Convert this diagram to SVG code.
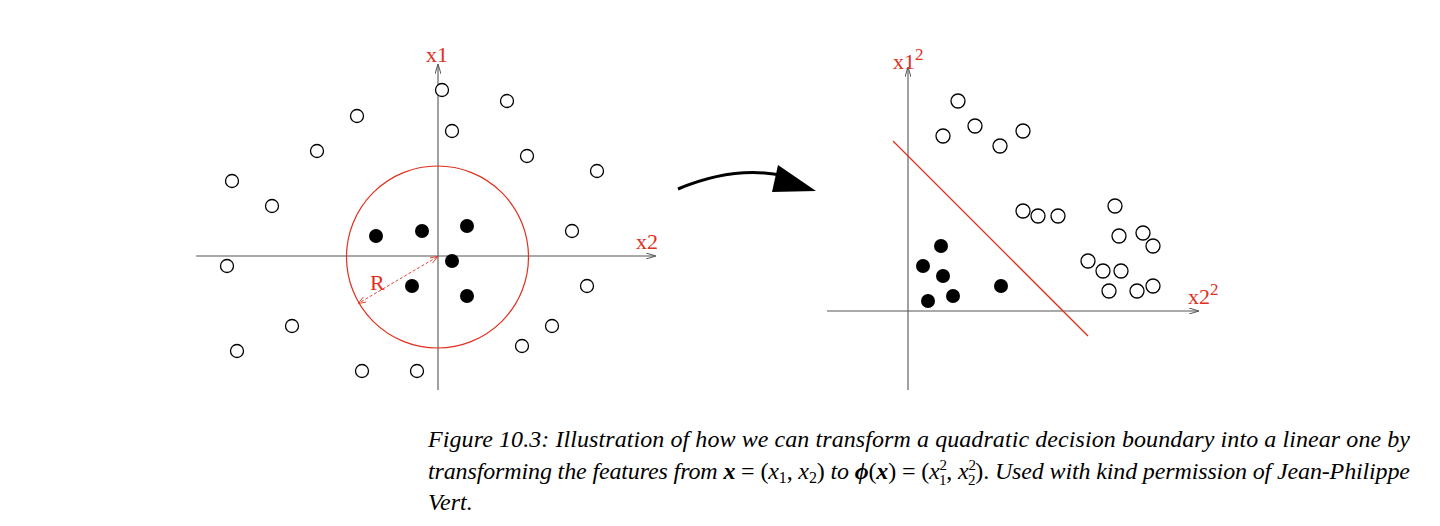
<svg xmlns="http://www.w3.org/2000/svg" width="1440" height="526" viewBox="0 0 1440 526">
<style>
.o{fill:#fff;stroke:#000;stroke-width:1.3}
.f{fill:#000}
.ax{stroke:#555;stroke-width:1.1;fill:none}
.lab{font-family:"Liberation Serif",serif;font-size:22px;fill:#e0301e}
.cap{font-family:"Liberation Serif",serif;font-style:italic;font-size:24px;fill:#000}
</style>
<defs>
<marker id="ah" markerWidth="10" markerHeight="6" refX="9" refY="3" orient="auto" markerUnits="userSpaceOnUse"><path d="M0,0L10,3L0,6" fill="none" stroke="#555"/></marker>
<marker id="rh" markerWidth="8" markerHeight="6" refX="7" refY="3" orient="auto-start-reverse" markerUnits="userSpaceOnUse"><path d="M0,0L8,3L0,6" fill="none" stroke="#e0301e" stroke-width="0.8"/></marker>
</defs>
<rect width="1440" height="526" fill="#fff"/>
<g id="connectors">
<line class="ax" x1="196" y1="256" x2="655" y2="256" marker-end="url(#ah)"/>
<line class="ax" x1="438" y1="390" x2="438" y2="65" marker-end="url(#ah)"/>
<line class="ax" x1="827" y1="311" x2="1198" y2="311" marker-end="url(#ah)"/>
<line class="ax" x1="908" y1="390" x2="908" y2="68" marker-end="url(#ah)"/>
<path d="M678,189 Q735,165 785,176" fill="none" stroke="#000" stroke-width="3"/>
<path d="M778,165 L816,191 L772,192 Z" fill="#000"/>
</g>
<g id="left-plot">
<circle cx="437.5" cy="257" r="91" fill="none" stroke="#e0301e" stroke-width="1.2"/>
<line x1="437" y1="257" x2="359" y2="303" stroke="#e0301e" stroke-width="0.9" stroke-dasharray="3,2" marker-start="url(#rh)" marker-end="url(#rh)"/>
<text class="lab" x="370" y="290">R</text>
<text class="lab" x="426" y="62">x1</text>
<text class="lab" x="636" y="249">x2</text>
<g class="f"><circle cx="376" cy="236" r="7"/><circle cx="422" cy="231" r="7"/><circle cx="467" cy="226" r="7"/><circle cx="452" cy="261" r="7"/><circle cx="412" cy="286" r="7"/><circle cx="467" cy="296" r="7"/></g>
<g class="o"><circle cx="442" cy="90" r="6.5"/><circle cx="507" cy="101" r="6.5"/><circle cx="452" cy="131" r="6.5"/><circle cx="357" cy="116" r="6.5"/><circle cx="317" cy="151" r="6.5"/><circle cx="527" cy="156" r="6.5"/><circle cx="597" cy="171" r="6.5"/><circle cx="232" cy="181" r="6.5"/><circle cx="272" cy="206" r="6.5"/><circle cx="572" cy="231" r="6.5"/><circle cx="227" cy="266" r="6.5"/><circle cx="587" cy="286" r="6.5"/><circle cx="292" cy="326" r="6.5"/><circle cx="552" cy="326" r="6.5"/><circle cx="522" cy="346" r="6.5"/><circle cx="237" cy="351" r="6.5"/><circle cx="362" cy="371" r="6.5"/><circle cx="417" cy="371" r="6.5"/></g>
</g>
<g id="right-plot">
<line x1="893" y1="141" x2="1088" y2="336" stroke="#e0301e" stroke-width="1.3"/>
<text class="lab" x="893" y="69">x1<tspan dy="-9" font-size="17">2</tspan></text>
<text class="lab" x="1188" y="304">x2<tspan dy="-9" font-size="17">2</tspan></text>
<g class="f"><circle cx="941" cy="246" r="7"/><circle cx="923" cy="266" r="7"/><circle cx="943" cy="276" r="7"/><circle cx="953" cy="296" r="7"/><circle cx="928" cy="301" r="7"/><circle cx="1001" cy="286" r="7"/></g>
<g class="o"><circle cx="958" cy="101" r="7"/><circle cx="975" cy="126" r="7"/><circle cx="943" cy="136" r="7"/><circle cx="1000" cy="146" r="7"/><circle cx="1023" cy="131" r="7"/><circle cx="1023" cy="211" r="7"/><circle cx="1038" cy="216" r="7"/><circle cx="1058" cy="216" r="7"/><circle cx="1115" cy="206" r="7"/><circle cx="1119" cy="236" r="7"/><circle cx="1143" cy="233" r="7"/><circle cx="1153" cy="246" r="7"/><circle cx="1088" cy="261" r="7"/><circle cx="1103" cy="271" r="7"/><circle cx="1121" cy="271" r="7"/><circle cx="1109" cy="291" r="7"/><circle cx="1137" cy="291" r="7"/><circle cx="1153" cy="286" r="7"/></g>
</g>
<g id="caption">
<text class="cap" x="428" y="447" textLength="982" lengthAdjust="spacing">Figure 10.3: Illustration of how we can transform a quadratic decision boundary into a linear one by</text>
<text class="cap" x="428" y="479" textLength="982" lengthAdjust="spacing">transforming the features from <tspan font-weight="bold">x</tspan><tspan font-style="normal"> = (</tspan>x<tspan font-size="16" dy="4" font-style="normal">1</tspan><tspan dy="-4" font-style="normal">, </tspan>x<tspan font-size="16" dy="4" font-style="normal">2</tspan><tspan dy="-4" font-style="normal">)</tspan> to <tspan font-weight="bold">ϕ</tspan><tspan font-style="normal">(</tspan><tspan font-weight="bold">x</tspan><tspan font-style="normal">) = (</tspan>x<tspan font-size="15" dy="-9" font-style="normal">2</tspan><tspan font-size="15" dx="-8" dy="15" font-style="normal">1</tspan><tspan dy="-6" font-style="normal">, </tspan>x<tspan font-size="15" dy="-9" font-style="normal">2</tspan><tspan font-size="15" dx="-8" dy="15" font-style="normal">2</tspan><tspan dy="-6" font-style="normal">).</tspan>  Used with kind permission of Jean-Philippe</text>
<text class="cap" x="428" y="510">Vert.</text>
</g>
</svg>
